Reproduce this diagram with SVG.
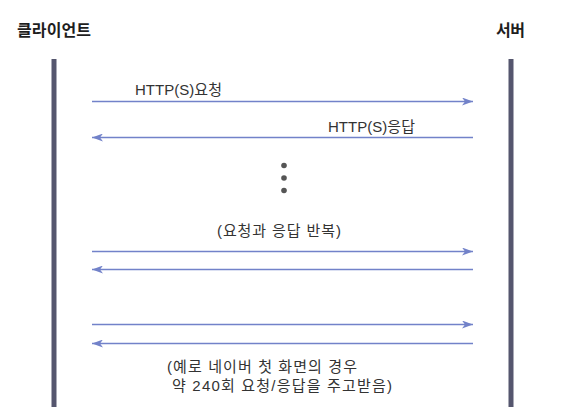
<svg xmlns="http://www.w3.org/2000/svg" width="562" height="407" viewBox="0 0 562 407">
<style>
.t{font-family:"Liberation Sans","Noto Sans CJK KR",sans-serif;fill:#333;font-size:15px}
.h{font-family:"Noto Sans CJK KR","Liberation Sans",sans-serif;fill:#1e1e1e;font-size:16px;font-weight:bold}
.life{stroke:#55566e;stroke-width:5}
.msg{stroke:#7282c9;stroke-width:1.3;fill:none}
</style>
<defs>
<marker id="ah" markerWidth="12" markerHeight="8" refX="11" refY="4" orient="auto" markerUnits="userSpaceOnUse">
<path d="M0,0 L11,4 L0,8 L3,4 Z" fill="#7282c9"/>
</marker>
</defs>
<g id="client"><text class="h" x="17" y="36" textLength="74">클라이언트</text><line class="life" x1="54" y1="59" x2="54" y2="407"/></g>
<g id="server"><text class="h" x="496" y="36" textLength="29">서버</text><line class="life" x1="511" y1="59" x2="511" y2="407"/></g>
<g id="connectors">
<line class="msg" x1="92" y1="101.5" x2="473" y2="101.5" marker-end="url(#ah)"/>
<line class="msg" x1="473" y1="137.5" x2="92" y2="137.5" marker-end="url(#ah)"/>
<line class="msg" x1="92" y1="251.5" x2="473" y2="251.5" marker-end="url(#ah)"/>
<line class="msg" x1="473" y1="269.5" x2="92" y2="269.5" marker-end="url(#ah)"/>
<line class="msg" x1="92" y1="324.5" x2="473" y2="324.5" marker-end="url(#ah)"/>
<line class="msg" x1="473" y1="343.5" x2="92" y2="343.5" marker-end="url(#ah)"/>
</g>
<g id="labels">
<text class="t" x="135" y="95" textLength="87">HTTP(S)요청</text>
<text class="t" x="328" y="132" textLength="87">HTTP(S)응답</text>
<circle cx="284" cy="165.5" r="2.8" fill="#555"/>
<circle cx="284" cy="178" r="2.8" fill="#555"/>
<circle cx="284" cy="190.5" r="2.8" fill="#555"/>
<text class="t" x="217" y="236" textLength="124">(요청과 응답 반복)</text>
<text class="t" x="167" y="372" textLength="190">(예로 네이버 첫 화면의 경우</text>
<text class="t" x="172" y="391" textLength="220">약 240회 요청/응답을 주고받음)</text>
</g>
</svg>
